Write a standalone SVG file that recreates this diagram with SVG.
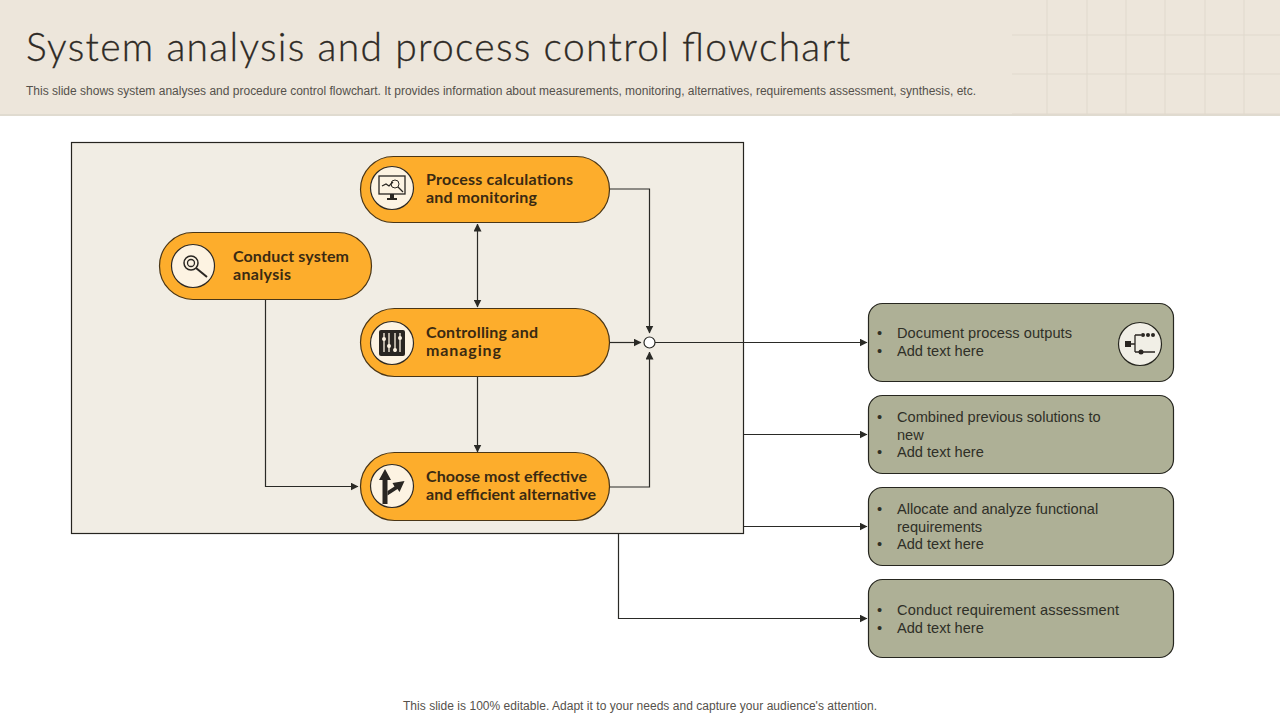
<svg xmlns="http://www.w3.org/2000/svg" width="1280" height="720" viewBox="0 0 1280 720">
<style>
.title{font-family:"Lato","Liberation Sans",sans-serif;font-weight:300;font-size:39px;fill:#2e2a25;stroke:#2e2a25;stroke-width:.3}
.sub{font-family:"Liberation Sans",Arial,sans-serif;font-size:12px;fill:#55514b}
.lab{font-family:"Lato","Liberation Sans",sans-serif;font-weight:700;font-size:16px;fill:#3a2a12}
.body{font-family:"Liberation Sans",Arial,sans-serif;font-size:14.6px;fill:#2f2f27}
.pill{fill:#fdad2c;stroke:#4a3616;stroke-width:1.2}
.ic{fill:#fdf3e2;stroke:#2e2a25;stroke-width:1.2}
.box{fill:#aeb096;stroke:#26261f;stroke-width:1.2}
.c{fill:none;stroke:#2a2a26;stroke-width:1.2}
.g{stroke:#e0d9cd;stroke-width:1;fill:none}
.k{fill:#2a2622}
.kl{fill:none;stroke:#2a2622;stroke-width:1.3}
</style>
<defs>
<marker id="a" viewBox="0 0 8 8" refX="7.500" refY="4" markerWidth="8" markerHeight="8" markerUnits="userSpaceOnUse" orient="auto-start-reverse"><path d="M0 0L8 4L0 8Z" fill="#2a2a26"/></marker>
</defs>
<rect width="1280" height="720" fill="#fff"/>
<g id="header">
<rect width="1280" height="115" fill="#ede6db"/>
<rect y="114" width="1280" height="2" fill="#e0dbd0"/>
<path class="g" d="M1047 0V115M1087 0V115M1126 0V115M1165 0V115M1205 0V115M1244 0V115M1012 35H1280M1012 74H1280M1012 114H1280"/>
<text class="title" x="26" y="61" textLength="824" lengthAdjust="spacing">System analysis and process control flowchart</text>
<text class="sub" x="26" y="95" textLength="950" lengthAdjust="spacing">This slide shows system analyses and procedure control flowchart. It provides information about measurements, monitoring, alternatives, requirements assessment, synthesis, etc.</text>
</g>
<rect id="panel" x="71.500" y="142.500" width="672" height="391" fill="#f1ede4" stroke="#26241f" stroke-width="1.200"/>
<g id="connectors">
<path class="c" d="M610 189H649.500V333" marker-end="url(#a)"/>
<path class="c" d="M477.500 224V307" marker-start="url(#a)" marker-end="url(#a)"/>
<path class="c" d="M610 342.500H641" marker-end="url(#a)"/>
<path class="c" d="M610 487H649.500V352" marker-end="url(#a)"/>
<path class="c" d="M477.500 377V452" marker-end="url(#a)"/>
<path class="c" d="M265.500 300V486.500H358" marker-end="url(#a)"/>
<path class="c" d="M655 342.500H867" marker-end="url(#a)"/>
<path class="c" d="M744 434.500H867" marker-end="url(#a)"/>
<path class="c" d="M744 526.500H867" marker-end="url(#a)"/>
<path class="c" d="M618.500 534V618.500H867" marker-end="url(#a)"/>
</g>
<circle id="junction" cx="649.500" cy="342.500" r="5.500" fill="#fff" stroke="#2a2a26" stroke-width="1.200"/>
<g id="node-process">
<rect class="pill" x="360.500" y="156.500" width="249" height="66" rx="33"/>
<circle class="ic" cx="392" cy="188" r="21.500"/>
<rect class="kl" x="379" y="176" width="26" height="18"/>
<path class="k" d="M390 194h4v4h3v2h-10v-2h3z"/>
<path class="kl" d="M382 186l4-2 3 2 4-4"/><circle cx="395" cy="184" r="4" fill="none" stroke="#2a2622"/><path class="kl" d="M398 187l5 5"/>
<text class="lab" x="426" y="185" textLength="147">Process calculations</text>
<text class="lab" x="426" y="203" textLength="111">and monitoring</text>
</g>
<g id="node-conduct">
<rect class="pill" x="159.500" y="232.500" width="212" height="67" rx="33.500"/>
<circle class="ic" cx="193" cy="266" r="21.500"/>
<circle cx="191" cy="263" r="7" fill="none" stroke="#2a2622" stroke-width="1.500"/><circle cx="191" cy="263" r="3.500" fill="none" stroke="#2a2622" stroke-width="1.300"/>
<path d="M196 268l11 9" fill="none" stroke="#2a2622" stroke-width="2"/>
<text class="lab" x="233" y="262" textLength="116">Conduct system</text>
<text class="lab" x="233" y="280" textLength="58">analysis</text>
</g>
<g id="node-control">
<rect class="pill" x="360.500" y="308.500" width="249" height="68" rx="34"/>
<circle class="ic" cx="392" cy="343" r="21.500"/>
<rect class="k" x="379" y="330" width="26" height="26" rx="2"/>
<path d="M384 333V352M389 333V352M395 333V352M400 333V352" stroke="#fdf3e2" stroke-width="1.300"/>
<path d="M384 339v.1M389 346v.1M395 350v.1M400 338v.1" stroke="#fdf3e2" stroke-width="4" stroke-linecap="round"/>
<text class="lab" x="426" y="338" textLength="112">Controlling and</text>
<text class="lab" x="426" y="356" textLength="75">managing</text>
</g>
<g id="node-choose">
<rect class="pill" x="360.500" y="452.500" width="249" height="68" rx="34"/>
<circle class="ic" cx="392" cy="486" r="21.500"/>
<path class="k" d="M385 469l6 11h-3.500v24h-5v-24h-3.500z"/>
<path class="k" d="M387.500 491l7-4.500-2-3.500 12-2-5 11-2-3-10 6.500z"/>
<text class="lab" x="426" y="482" textLength="161">Choose most effective</text>
<text class="lab" x="426" y="500" textLength="170">and efficient alternative</text>
</g>
<g id="box-1">
<rect class="box" x="868.500" y="303.500" width="305" height="78" rx="14"/>
<text class="body" x="877" y="338">•</text><text class="body" x="897" y="338" textLength="175">Document process outputs</text>
<text class="body" x="877" y="356">•</text><text class="body" x="897" y="356">Add text here</text>
<circle cx="1140" cy="344" r="21.500" fill="#f1efe6" stroke="#26261f" stroke-width="1.200"/>
<rect class="k" x="1125" y="341" width="6" height="6"/>
<path class="kl" d="M1131 344H1135M1135 335V352M1135 335H1141M1135 352H1141M1141 352H1155"/>
<circle class="k" cx="1143" cy="335" r="2"/><circle class="k" cx="1148" cy="335" r="2"/><circle class="k" cx="1153" cy="335" r="2"/><circle class="k" cx="1141" cy="352" r="2.500"/>
</g>
<g id="box-2">
<rect class="box" x="868.500" y="395.500" width="305" height="78" rx="14"/>
<text class="body" x="877" y="422">•</text><text class="body" x="897" y="422">Combined previous solutions to</text>
<text class="body" x="897" y="440">new</text>
<text class="body" x="877" y="457">•</text><text class="body" x="897" y="457">Add text here</text>
</g>
<g id="box-3">
<rect class="box" x="868.500" y="487.500" width="305" height="78" rx="14"/>
<text class="body" x="877" y="514">•</text><text class="body" x="897" y="514">Allocate and analyze functional</text>
<text class="body" x="897" y="532">requirements</text>
<text class="body" x="877" y="549">•</text><text class="body" x="897" y="549">Add text here</text>
</g>
<g id="box-4">
<rect class="box" x="868.500" y="579.500" width="305" height="78" rx="14"/>
<text class="body" x="877" y="615">•</text><text class="body" x="897" y="615" textLength="222">Conduct requirement assessment</text>
<text class="body" x="877" y="633">•</text><text class="body" x="897" y="633">Add text here</text>
</g>
<text id="footer" class="sub" x="403" y="710" textLength="474">This slide is 100% editable. Adapt it to your needs and capture your audience's attention.</text>
</svg>
